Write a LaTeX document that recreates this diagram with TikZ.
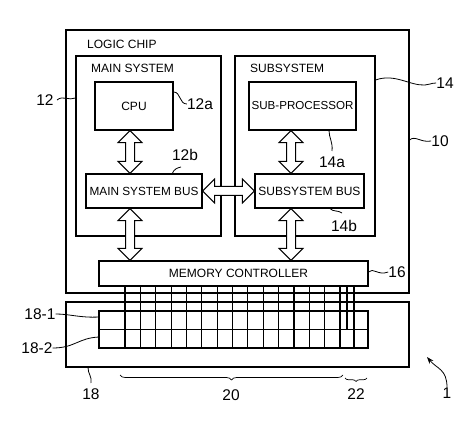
\documentclass[tikz,border=0pt]{standalone}
\usepackage{fontspec}
\setmainfont{Liberation Sans}
\usetikzlibrary{calc,decorations.pathreplacing,arrows.meta}
\begin{document}
\begin{tikzpicture}[x=1pt,y=-1pt,
  box/.style={draw,line width=1.1pt,inner sep=0pt},
  lbl/.style={font=\fontsize{12}{14}\selectfont,inner sep=0pt},
  num/.style={font=\fontsize{15.5}{18}\selectfont,inner sep=0pt},
  lead/.style={line width=0.8pt},
  hollow/.style={draw,line width=1pt,fill=white,line join=miter},
  brc/.style={line width=0.7pt,decorate,decoration={brace,mirror,amplitude=5pt}}]
\useasboundingbox (0,0) rectangle (474,427);

% boxes
\node[box,minimum width=343pt,minimum height=263pt] (chip) at (237.5,161.5) {};
\node[lbl,anchor=west] (chipl) at (87,44) {LOGIC CHIP};
\node[box,minimum width=145pt,minimum height=180pt] (main) at (148.5,146) {};
\node[lbl,anchor=west] (mainl) at (91,68) {MAIN SYSTEM};
\node[box,minimum width=140pt,minimum height=180pt] (sub) at (305,146) {};
\node[lbl,anchor=west] (subl) at (250,68) {SUBSYSTEM};
\node[box,lbl,minimum width=78pt,minimum height=48pt] (cpu) at (134,106) {CPU};
\node[box,font=\fontsize{11.6}{14}\selectfont,minimum width=107pt,minimum height=48pt] (sp) at (302.5,106) {SUB-PROCESSOR};
\node[box,font=\fontsize{11.8}{14}\selectfont,minimum width=116pt,minimum height=34pt] (mbus) at (144,191) {MAIN SYSTEM BUS};
\node[box,lbl,minimum width=109pt,minimum height=34pt] (sbus) at (309.5,191) {SUBSYSTEM BUS};
\node[box,minimum width=269pt,minimum height=25pt] (mc) at (233.5,273.5) {};
\node[lbl] (mct) at (238.5,273.5) {MEMORY CONTROLLER};
\node[box,minimum width=343pt,minimum height=65pt] (mem) at (237.5,334.5) {};

% memory cells
\draw[line width=1.1pt] (99,311) rectangle (368,348);
\draw[line width=1.1pt] (99,329.5) -- (368,329.5);
\foreach \k in {0,...,14} \draw[line width=1.1pt] ({125+\k*15.36},286) -- ({125+\k*15.36},348);
\draw[line width=1.1pt] (354,286) -- (354,348);
\draw[line width=1.1pt] (347,286) -- (347,329.5);

% hollow double arrows
\newcommand\vhollow[2]{%
  \draw[hollow] let \p1=(#1), \p2=(#2) in
  (\x1,\y1) -- (\x1+12pt,\y1-12pt) -- (\x1+4.5pt,\y1-12pt) -- (\x1+4.5pt,\y2+12pt) --
  (\x1+12pt,\y2+12pt) -- (\x1,\y2) -- (\x1-12pt,\y2+12pt) -- (\x1-4.5pt,\y2+12pt) --
  (\x1-4.5pt,\y1-12pt) -- (\x1-12pt,\y1-12pt) -- cycle;}
\newcommand\hhollow[2]{%
  \draw[hollow] let \p1=(#1), \p2=(#2) in
  (\x1,\y1) -- (\x1+12pt,\y1+12pt) -- (\x1+12pt,\y1+4.5pt) -- (\x2-12pt,\y1+4.5pt) --
  (\x2-12pt,\y1+12pt) -- (\x2,\y1) -- (\x2-12pt,\y1-12pt) -- (\x2-12pt,\y1-4.5pt) --
  (\x1+12pt,\y1-4.5pt) -- (\x1+12pt,\y1-12pt) -- cycle;}
\coordinate (ax1) at (130,0);
\coordinate (ax2) at (291,0);
\vhollow{ax1 |- cpu.south}{ax1 |- mbus.north}
\vhollow{ax2 |- sp.south}{ax2 |- sbus.north}
\vhollow{ax1 |- mbus.south}{ax1 |- mc.north}
\vhollow{ax2 |- sbus.south}{ax2 |- mc.north}
\hhollow{mbus.east}{sbus.west}

% reference labels
\node[num] (n12) at (45,100) {12};
\draw[lead] (57,100) .. controls (63,95) and (69,101) .. (main.west |- 0,98);
\node[num] (n12a) at (200,104) {12a};
\draw[lead] (cpu.east |- 0,92) .. controls (181,92) and (179,104) .. (n12a.west);
\node[num] (n12b) at (185,155) {12b};
\draw[lead] (172,174) .. controls (174,169) and (177,168) .. (181,167);
\node[num] (n14) at (445,83) {14};
\draw[lead] (sub.east |- 0,80) .. controls (395,73) and (410,86) .. (425,85) .. controls (429,85) and (431,83) .. (n14.west);
\node[num] (n14a) at (332,162) {14a};
\draw[lead] (sp.south -| 329,0) .. controls (329,138) and (333,142) .. (332,151);
\node[num] (n14b) at (344,226) {14b};
\draw[lead] (sbus.south -| 330,0) .. controls (333,212) and (338,210) .. (342,213);
\node[num] (n10) at (440,141) {10};
\draw[lead] (chip.east |- 0,140) .. controls (415,135) and (421,143) .. (n10.west);
\node[num] (n16) at (397,272) {16};
\draw[lead] (mc.east |- 0,272) .. controls (373,267) and (378,276) .. (n16.west);
\node[num] (n181) at (40,314) {18-1};
\draw[lead] (n181.east) .. controls (70,314) and (80,318) .. (99,317);
\node[num] (n182) at (37,348) {18-2};
\draw[lead] (n182.east) .. controls (75,348) and (78,338) .. (99,337);
\node[num] (n18) at (91,394) {18};
\draw[lead] (mem.south -| 88,0) .. controls (88,374) and (92,376) .. (91,383);
\node[num] (n20) at (231,395) {20};
\node[num] (n22) at (356,394) {22};
\coordinate (b1) at (120,375);
\coordinate (b2) at (343,375);
\coordinate (b3) at (345,378);
\coordinate (b4) at (367,378);
\draw[brc] (b1) -- (b2);
\draw[brc,decoration={brace,mirror,amplitude=3.5pt}] (b3) -- (b4);
\node[num] (n1) at (447,393) {1};
\coordinate (t1) at (427,357);
\draw[lead,-{Stealth[length=7pt,width=5pt]}] (n1.north) .. controls (447,369) and (437,369) .. (t1);
\end{tikzpicture}
\end{document}
